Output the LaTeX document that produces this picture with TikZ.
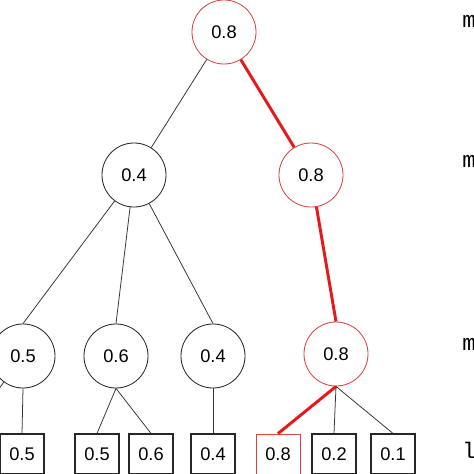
\documentclass[tikz,border=0pt]{standalone}
\usepackage{fontspec}
\setmainfont{Liberation Sans}
\newfontfamily\lvlfont{Liberation Mono}
\usepackage{tikz}
\usetikzlibrary{arrows.meta, positioning}
\definecolor{pathred}{HTML}{E41A1A}
\definecolor{nodered}{HTML}{D8423F}
\tikzset{
  val/.style={draw=black!85, circle, minimum size=1.6cm, inner sep=0pt, line width=0.6pt,
              font=\fontsize{13}{15}\selectfont},
  valhi/.style={val, draw=nodered},
  leaf/.style={draw=black!85, rectangle, minimum width=1.1cm, minimum height=1.0cm, inner sep=0pt,
               line width=0.8pt, font=\fontsize{13}{15}\selectfont},
  leafhi/.style={leaf, draw=nodered, line width=0.6pt},
  edge/.style={draw=black!80, line width=0.55pt},
  hot/.style={draw=pathred, line width=2.1pt},
  lvl/.style={anchor=base west, inner sep=0pt, font=\lvlfont\fontsize{16}{18}\selectfont}
}
\begin{document}
\begin{tikzpicture}[x=0.025cm, y=-0.025cm]
    \useasboundingbox (0,0) rectangle (474,474);
    \clip (0,0) rectangle (474,474);
    \node[valhi] (root) at (224,32) {0.8};
    \node[val] (mn1) at (134,175) {0.4};
    \node[valhi] (mn2) at (311,175) {0.8};
    \node[val] (mx1) at (23,356) {0.5};
    \node[val] (mx2) at (116,356) {0.6};
    \node[val] (mx3) at (213,356) {0.4};
    \node[valhi] (mx4) at (336,354) {0.8};
    \node[leaf] (lf0) at (-34,454) {};
    \node[leaf] (lf1) at (22,454) {0.5};
    \node[leaf] (lf2) at (97,454) {0.5};
    \node[leaf] (lf3) at (151,454) {0.6};
    \node[leaf] (lf4) at (213,454) {0.4};
    \node[leafhi] (lf5) at (278,454) {0.8};
    \node[leaf] (lf6) at (334,454) {0.2};
    \node[leaf] (lf7) at (393,454) {0.1};
    \node[lvl] (lvmax1) at (462,27) {max};
    \node[lvl] (lvmin) at (462,167) {min};
    \node[lvl] (lvmax2) at (462,350) {max};
    \node[lvl] (lvleaf) at (462,458) {leaf};
    \draw[edge] (root) -- (mn1);
    \draw[hot] (root) -- (mn2);
    \draw[edge] (mn1) -- (mx1.north);
    \draw[edge] (mn1) -- (mx2.north);
    \draw[edge] (mn1) -- (mx3.north);
    \draw[hot] (mn2) -- (mx4.north);
    \draw[edge] (mx1) -- (lf0.north);
    \draw[edge] (mx1.south) -- (lf1.north);
    \draw[edge] (mx2.south) -- (lf2.north);
    \draw[edge] (mx2.south) -- (lf3.north);
    \draw[edge] (mx3.south) -- (lf4.north);
    \draw[hot] (mx4.south) -- (lf5.north);
    \draw[edge] (mx4.south) -- (lf6.north);
    \draw[edge] (mx4.south) -- (lf7.north);
  \end{tikzpicture}
\end{document}
